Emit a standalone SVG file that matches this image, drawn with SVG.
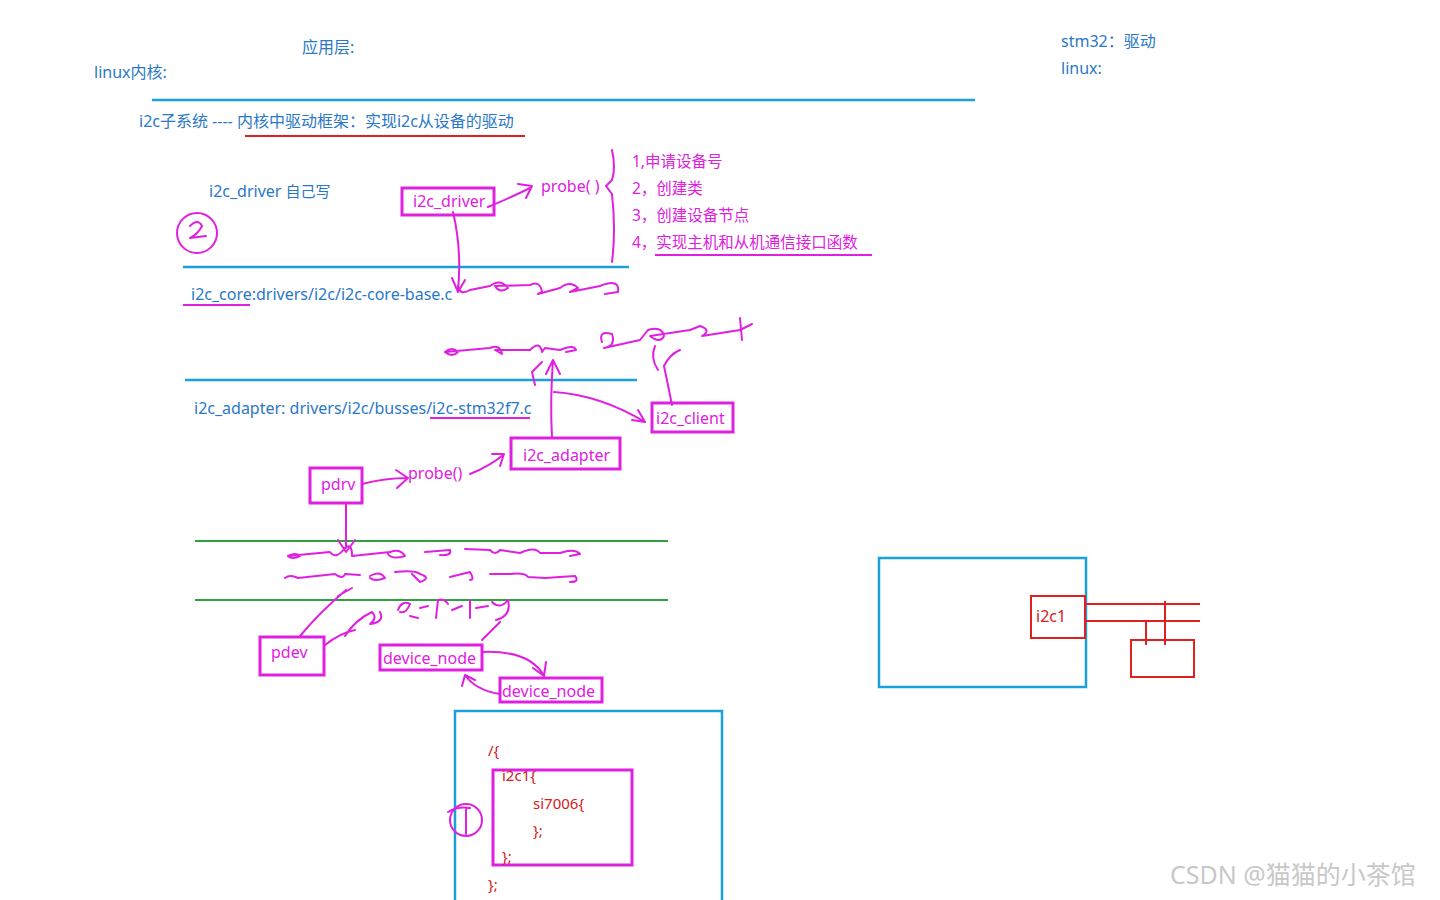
<svg xmlns="http://www.w3.org/2000/svg" width="1440" height="900" viewBox="0 0 1440 900" font-size="16">
<style>
text{font-family:"Noto Sans","Noto Sans CJK SC",sans-serif}
.b{fill:#2a78c8}.m{fill:#e020e0}.r{fill:#d42020}
.bl{stroke:#1aa0dc;stroke-width:2.5;fill:none}
.ml{stroke:#e020e0;stroke-width:2;fill:none;stroke-linecap:round;stroke-linejoin:round}
.mb{stroke:#e020e0;stroke-width:3;fill:none}
.rl{stroke:#e02020;stroke-width:2;fill:none}
.gl{stroke:#30a040;stroke-width:2}
</style>
<rect width="1440" height="900" fill="#fff"/>
<g id="texts">
<text x="302" y="53" class="b">应用层:</text>
<text x="94" y="78" class="b">linux内核:</text>
<text x="1061" y="47" class="b">stm32：驱动</text>
<text x="1061" y="74" class="b">linux:</text>
<text x="139" y="127" class="b">i2c子系统 ---- <tspan>内核中驱动框架：实现i2c从设备的驱动</tspan></text>
<text x="209" y="197" class="b">i2c_driver <tspan font-size="15">自己写</tspan></text>
<text x="191" y="300" class="b">i2c_core:drivers/i2c/i2c-core-base.c</text>
<text x="194" y="414" class="b">i2c_adapter: drivers/i2c/busses/i2c-stm32f7.c</text>
<text x="541" y="192" class="m">probe(  )</text>
<text x="632" y="167" class="m" font-size="15.5">1,申请设备号</text>
<text x="632" y="194" class="m" font-size="15.5">2，创建类</text>
<text x="632" y="221" class="m" font-size="15.5">3，创建设备节点</text>
<text x="632" y="248" class="m" font-size="15.5">4，实现主机和从机通信接口函数</text>
<text x="408" y="479" class="m">probe()</text>
<text x="1170" y="884" fill="#c8c8c8" font-size="25">CSDN @猫猫的小茶馆</text>
</g>
<g id="lines">
<line x1="152" y1="100" x2="975" y2="100" class="bl"/>
<line x1="245" y1="136" x2="525" y2="136" class="rl"/>
<line x1="183" y1="267" x2="629" y2="267" class="bl"/>
<line x1="185" y1="380" x2="637" y2="380" class="bl"/>
<line x1="183" y1="305" x2="250" y2="305" stroke="#e020e0" stroke-width="2"/>
<line x1="430" y1="418" x2="530" y2="418" stroke="#e020e0" stroke-width="2"/>
<line x1="655" y1="255" x2="872" y2="255" stroke="#e020e0" stroke-width="2"/>
<line x1="195" y1="541" x2="668" y2="541" class="gl"/>
<line x1="195" y1="600" x2="668" y2="600" class="gl"/>
</g>
<g id="n_circle2"><circle cx="197" cy="233" r="20" class="ml"/><path d="M190 226 Q198 218 202 226 Q198 234 190 238 L206 236" class="ml"/></g>
<g id="n_i2c_driver"><rect x="402" y="188" width="92" height="27" class="mb"/><text x="413" y="207" class="m">i2c_driver</text></g>
<g id="n_i2c_client"><rect x="652" y="403" width="81" height="29" class="mb"/><text x="656" y="424" class="m">i2c_client</text></g>
<g id="n_i2c_adapter"><rect x="511" y="438" width="109" height="31" class="mb"/><text x="523" y="461" class="m">i2c_adapter</text></g>
<g id="n_pdrv"><rect x="310" y="468" width="52" height="35" class="mb"/><text x="321" y="490" class="m">pdrv</text></g>
<g id="n_pdev"><rect x="260" y="637" width="64" height="38" class="mb"/><text x="271" y="658" class="m">pdev</text></g>
<g id="n_dn1"><rect x="380" y="645" width="102" height="25" class="mb"/><text x="383" y="664" class="m">device_node</text></g>
<g id="n_dn2"><rect x="500" y="678" width="102" height="24" class="mb"/><text x="502" y="697" class="m">device_node</text></g>
<g id="n_dts">
<rect x="455" y="711" width="267" height="195" class="bl"/>
<rect x="493" y="770" width="139" height="95" class="mb"/>
<text x="488" y="756" class="r" font-size="15">/{</text>
<text x="502" y="781" class="r" font-size="15">i2c1{</text>
<text x="533" y="809" class="r" font-size="15">si7006{</text>
<text x="533" y="836" class="r" font-size="15">};</text>
<text x="502" y="862" class="r" font-size="15">};</text>
<text x="488" y="890" class="r" font-size="15">};</text>
<circle cx="466" cy="820" r="16" class="ml"/><path d="M466 808 L466 834 M448 812 Q458 806 470 808" class="ml"/>
</g>
<g id="n_board">
<rect x="879" y="558" width="207" height="129" class="bl"/>
<rect x="1031" y="596" width="54" height="42" class="rl"/>
<text x="1036" y="622" class="r">i2c1</text>
<line x1="1085" y1="604" x2="1200" y2="604" class="rl"/>
<line x1="1085" y1="621" x2="1200" y2="621" class="rl"/>
<line x1="1146" y1="621" x2="1146" y2="645" class="rl"/>
<line x1="1165" y1="601" x2="1165" y2="645" class="rl"/>
<rect x="1131" y="640" width="63" height="37" class="rl"/>
</g>
<g id="connectors" class="ml">
<path d="M488 207 Q510 198 530 188 M518 184 L532 186 L526 198"/>
<path d="M612 150 Q616 168 612 180 L606 186 L612 194 Q616 230 612 262"/>
<path d="M453 212 Q462 250 458 290 M452 278 L458 292 L465 280"/>
<path d="M458 286 Q460 296 470 290 L490 286 Q500 278 508 288 Q500 294 495 286 L530 285 Q540 280 542 292 L538 294 L560 288 Q570 280 578 288 L570 292 L600 286 Q620 278 618 292 L605 294"/>
<path d="M445 352 Q452 346 458 352 Q452 358 445 352 L490 348 Q500 344 502 354 L495 350 L530 350 Q540 340 542 352 L545 348 L560 350 Q574 344 576 350 L566 352"/>
<path d="M602 342 Q598 330 612 334 Q616 346 604 348 L640 340 L648 330 Q662 326 664 336 Q660 344 650 336 L690 330 L700 326 Q712 330 702 336 L740 330 L752 324 M740 318 L742 340"/>
<path d="M655 346 Q650 358 658 370 M680 350 Q670 354 664 366 Q668 385 672 405"/>
<path d="M552 438 Q550 400 553 360 M546 374 L553 360 L560 374"/>
<path d="M554 392 Q600 395 645 422 M632 420 L645 422 L638 410"/>
<path d="M535 385 L532 372 L542 362"/>
<path d="M362 484 Q385 478 408 478 M396 470 L408 478 L397 488 M470 474 Q490 466 503 455 M492 454 L504 454 L500 466"/>
<path d="M346 503 L346 548 M338 540 L346 552 L355 540"/>
<path d="M288 556 Q296 552 300 556 Q292 560 288 556 L330 552 Q336 560 345 548 Q352 542 352 556 L390 552 Q400 548 405 556 Q392 560 388 554 M425 552 L450 550 Q452 556 440 555 M465 549 L490 550 Q495 556 500 550 L520 553 Q535 546 540 553 L560 553 Q575 548 580 554 L570 556"/>
<path d="M285 578 Q290 574 298 578 L335 574 Q343 580 345 574 L360 575 M370 576 Q380 570 385 578 Q375 582 370 578 M395 572 Q415 570 420 574 Q432 578 420 582 L412 574 M450 577 L470 572 Q475 580 470 580 M490 574 L510 574 Q525 572 528 577 L545 578 L575 576 Q580 582 570 582"/>
<path d="M300 636 Q320 612 346 590 M338 596 L352 588 M325 645 Q340 633 355 630"/>
<path d="M345 636 Q355 620 372 612 Q378 618 370 624 Q385 622 380 612 M398 610 Q402 600 410 604 Q406 614 400 612 M410 616 L418 618 M420 608 L428 606 M436 618 L438 600 Q444 598 448 604 M452 610 L462 606 M470 600 L470 618 M476 608 L488 606 M492 602 Q500 610 508 600 Q512 616 496 620 M482 640 L500 622"/>
<path d="M482 652 Q530 650 544 676 M533 668 L544 676 L546 662"/>
<path d="M500 694 Q475 690 465 675 M462 686 L465 675 L475 680"/>
</g>
</svg>
